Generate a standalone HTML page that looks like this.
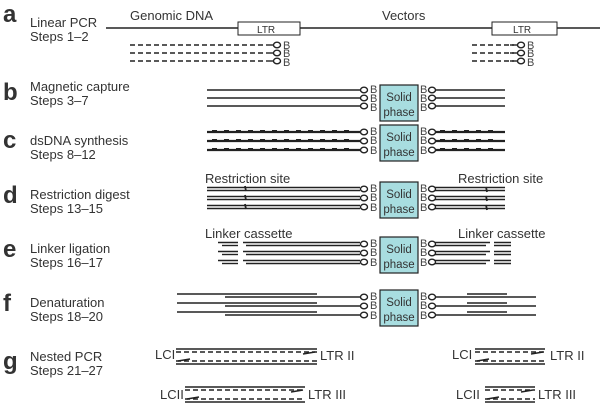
<!DOCTYPE html>
<html><head><meta charset="utf-8"><style>
html,body{margin:0;padding:0;background:#fff;}
svg{display:block;font-family:"Liberation Sans",sans-serif;}
.lb{font-size:13px;fill:#333;}
.L{font-size:24px;font-weight:bold;fill:#333;}
</style></head><body>
<svg id="s" width="600" height="408" viewBox="0 0 600 408" xmlns="http://www.w3.org/2000/svg" style="position:absolute;left:0;top:0">
<g stroke="#222" fill="none" stroke-width="1.4" id="g"></g>
<text class="L" x="3" y="22">a</text>
<text class="L" x="3" y="100">b</text>
<text class="L" x="3" y="148">c</text>
<text class="L" x="3" y="203">d</text>
<text class="L" x="3" y="257">e</text>
<text class="L" x="3" y="311">f</text>
<text class="L" x="3" y="369">g</text>
<text class="lb" x="30" y="27">Linear PCR</text><text class="lb" x="30" y="41">Steps 1–2</text>
<text class="lb" x="30" y="91">Magnetic capture</text><text class="lb" x="30" y="105">Steps 3–7</text>
<text class="lb" x="30" y="145">dsDNA synthesis</text><text class="lb" x="30" y="159">Steps 8–12</text>
<text class="lb" x="30" y="199">Restriction digest</text><text class="lb" x="30" y="213">Steps 13–15</text>
<text class="lb" x="30" y="253">Linker ligation</text><text class="lb" x="30" y="267">Steps 16–17</text>
<text class="lb" x="30" y="307">Denaturation</text><text class="lb" x="30" y="321">Steps 18–20</text>
<text class="lb" x="30" y="361">Nested PCR</text><text class="lb" x="30" y="375">Steps 21–27</text>
<text class="lb" x="130" y="20">Genomic DNA</text>
<text class="lb" x="382" y="20">Vectors</text>
<text class="lb" x="205" y="183">Restriction site</text>
<text class="lb" x="458" y="183">Restriction site</text>
<text class="lb" x="205" y="238">Linker cassette</text>
<text class="lb" x="458" y="238">Linker cassette</text>
<text class="lb" x="155" y="359">LCI</text><text class="lb" x="320" y="360">LTR II</text>
<text class="lb" x="160" y="399">LCII</text><text class="lb" x="308" y="399">LTR III</text>
<text class="lb" x="452" y="359">LCI</text><text class="lb" x="550" y="360">LTR II</text>
<text class="lb" x="456" y="399">LCII</text><text class="lb" x="538" y="399">LTR III</text>
</svg>
<script>
var g=document.getElementById('g'),NS='http://www.w3.org/2000/svg';
function el(p,tag,a){var e=document.createElementNS(NS,tag);for(var k in a)e.setAttribute(k,a[k]);p.appendChild(e);return e;}
function ln(x1,y1,x2,y2,ex){var a={x1:x1,y1:y1,x2:x2,y2:y2};for(var k in ex)a[k]=ex[k];return el(g,'line',a);}
function circ(x,y){el(g,'ellipse',{cx:x,cy:y,rx:3.5,ry:2.8,fill:'#fff'});}
ln(106,28,600,28);
el(g,'rect',{x:238,y:22,width:62,height:13,fill:'#fff','stroke-width':1});
el(g,'rect',{x:492,y:22,width:65,height:13,fill:'#fff','stroke-width':1});
[45,53,61].forEach(function(y){
 ln(130,y,266,y,{'stroke-dasharray':'5,3'});ln(266,y,274,y);circ(277,y);
 ln(472,y,514,y,{'stroke-dasharray':'5,3'});ln(510,y,518,y);circ(521,y);
});
var rows=[[85,[90,98,106]],[125,[132,141,150]],[182,[189,198,207]],[237,[244,253,262]],[290,[297,306,315]]];
rows.forEach(function(r,i){
 el(g,'rect',{x:380,y:r[0],width:38,height:36,fill:'#a8dde0','stroke-width':1.2});
 r[1].forEach(function(y){
  var L=360,R=435;
  if(i==0){ln(207,y,L,y);ln(R,y,505,y);}
  if(i==1){ln(207,y,L,y,{'stroke-width':2.2});ln(R,y,505,y,{'stroke-width':2.2});
    for(var x=212;x<355;x+=12)ln(x,y-1.5,x+5,y-1.5,{'stroke-width':1});
    for(var x=440;x<500;x+=12)ln(x,y-1.5,x+5,y-1.5,{'stroke-width':1});}
  if(i==2){ln(207,y-1.5,L,y-1.5);ln(207,y+1.5,L,y+1.5);ln(R,y-1.5,505,y-1.5);ln(R,y+1.5,505,y+1.5);
    ln(245,y-3,246,y+2,{'stroke-width':1.8});ln(486,y-2,487,y+3,{'stroke-width':1.8});}
  if(i==3){ln(218,y-1.5,238,y-1.5);ln(222,y+1.5,238,y+1.5);ln(243,y-1.5,L,y-1.5);ln(246,y+1.5,L,y+1.5);
    ln(R,y-1.5,490,y-1.5);ln(R,y+1.5,486,y+1.5);ln(494,y-1.5,511,y-1.5);ln(494,y+1.5,511,y+1.5);}
  if(i==4){ln(225,y,L,y);ln(177,y-3,317,y-3);ln(R,y,536,y);ln(467,y-3,507,y-3);}
  circ(364,y);circ(432,y);
 });
});
function pcr(x1,x2,y){ln(x1,y,x2,y);ln(x1,y+3,x2,y+3,{'stroke-dasharray':'5,3'});
 ln(x1,y+12,x2,y+12,{'stroke-dasharray':'5,3'});ln(x1,y+15,x2,y+15);
 ln(x2-14,y+5,x2-2,y+3);ln(x1+2,y+12,x1+14,y+10);}
pcr(176,317,349);pcr(185,305,387);pcr(475,545,349);pcr(485,535,387);
</script>
<svg width="600" height="408" style="position:absolute;left:0;top:0;font-family:'Liberation Sans',sans-serif">
<g font-size="10" fill="#333">
<text x="257" y="33">LTR</text><text x="513" y="33">LTR</text>
</g>
<g font-size="11" fill="#444">
<text x="283" y="49">B</text><text x="283" y="57">B</text><text x="283" y="66">B</text>
<text x="527" y="49">B</text><text x="527" y="57">B</text><text x="527" y="66">B</text>
<text x="370" y="93">B</text><text x="370" y="102">B</text><text x="370" y="111">B</text>
<text x="420" y="93">B</text><text x="420" y="102">B</text><text x="420" y="111">B</text>
<text x="370" y="135">B</text><text x="370" y="144">B</text><text x="370" y="154">B</text>
<text x="420" y="135">B</text><text x="420" y="144">B</text><text x="420" y="154">B</text>
<text x="370" y="192">B</text><text x="370" y="201">B</text><text x="370" y="211">B</text>
<text x="420" y="192">B</text><text x="420" y="201">B</text><text x="420" y="211">B</text>
<text x="370" y="247">B</text><text x="370" y="256">B</text><text x="370" y="266">B</text>
<text x="420" y="247">B</text><text x="420" y="256">B</text><text x="420" y="266">B</text>
<text x="370" y="300">B</text><text x="370" y="309">B</text><text x="370" y="319">B</text>
<text x="420" y="300">B</text><text x="420" y="309">B</text><text x="420" y="319">B</text>
</g>
<g font-size="11.5" fill="#333" text-anchor="middle">
<text x="399" y="101">Solid</text><text x="399" y="116">phase</text>
<text x="399" y="141">Solid</text><text x="399" y="156">phase</text>
<text x="399" y="198">Solid</text><text x="399" y="213">phase</text>
<text x="399" y="253">Solid</text><text x="399" y="268">phase</text>
<text x="399" y="306">Solid</text><text x="399" y="321">phase</text>
</g>
</svg>
</body></html>
